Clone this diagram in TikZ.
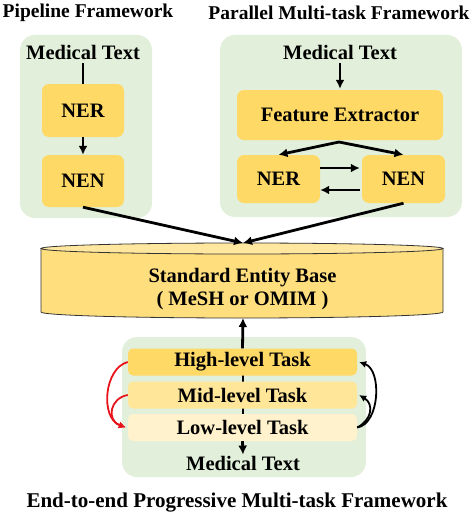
\documentclass[tikz,border=0pt]{standalone}
\usepackage{fontspec}
\setmainfont{Liberation Serif}
\usetikzlibrary{arrows.meta}
\definecolor{bggreen}{HTML}{E2EFDA}
\definecolor{boxor}{HTML}{FFD966}
\definecolor{boxmid}{HTML}{FFE699}
\definecolor{boxlow}{HTML}{FFF2CC}
\definecolor{cylbody}{HTML}{FFDE7E}
\definecolor{cyltopc}{HTML}{FFE7A0}
\definecolor{redarr}{HTML}{E8141C}
\tikzset{
  panel/.style={fill=bggreen, rounded corners=15pt, draw=none},
  obox/.style={fill=boxor, rounded corners=7pt, draw=none, inner sep=0pt},
  txt/.style={font=\fontsize{20.5}{23}\selectfont\bfseries, inner sep=0pt},
  ttl/.style={font=\fontsize{19.5}{22}\selectfont\bfseries, inner sep=0pt},
  arr/.style={line width=2.8pt, -{Latex[length=9pt,width=9pt]}},
  plain/.style={line width=2.8pt},
  curv/.style={line width=1.8pt, -{Latex[length=7pt,width=7pt]}},
}
\begin{document}
\begin{tikzpicture}[x=1pt,y=-1pt]
\useasboundingbox (0,0) rectangle (474,519);
% titles
\node[ttl] (t1) at (88,13) {Pipeline Framework};
\node[ttl] (t2) at (339,13) {Parallel Multi-task Framework};
\node[txt, font=\fontsize{21}{23}\selectfont\bfseries] (t3) at (237,503) {End-to-end Progressive Multi-task Framework};
% panels
\fill[panel] (20,35) rectangle (152,218);
\fill[panel] (220,35) rectangle (462,217);
\fill[panel] (122,337) rectangle (366,477);
% left pipeline
\node[txt] (lmt) at (83,52) {Medical Text};
\node[obox, minimum width=82pt, minimum height=53pt] (lner) at (83,110.5) {};
\node[txt] at (lner) {NER};
\node[obox, minimum width=82pt, minimum height=52pt] (lnen) at (83,181) {};
\node[txt] at (lnen) {NEN};
\draw[plain] (lmt.south) ++(0,-4pt) -- (lner.north);
\draw[arr] (lner.south) -- (lnen.north);
% right parallel
\node[txt] (rmt) at (340,52) {Medical Text};
\node[obox, minimum width=206pt, minimum height=50pt] (fe) at (340,115) {};
\node[txt] at (fe) {Feature Extractor};
\node[obox, minimum width=83pt, minimum height=48pt] (rner) at (278.5,179) {};
\node[txt] at (rner) {NER};
\node[obox, minimum width=83pt, minimum height=48pt] (rnen) at (403.5,179) {};
\node[txt] at (rnen) {NEN};
\draw[arr] ([yshift=-4pt]rmt.south) -- ([yshift=1pt]fe.north);
\coordinate (fes) at (339,142);
\draw[arr] (fes) -- (rner.north);
\draw[arr] (fes) -- (rnen.north);
\draw[arr] ([yshift=11pt]rner.east) -- ([yshift=11pt,xshift=-2pt]rnen.west);
\draw[arr] ([yshift=-11pt,xshift=-2pt]rnen.west) -- ([yshift=-11pt]rner.east);
% cylinder
\fill[cylbody] (41,248.5) -- (41,312) arc[start angle=180,end angle=360,x radius=201pt,y radius=6pt] -- (443,248.5) -- cycle;
\draw[line width=0.8pt, black!80] (41,248.5) -- (41,312) arc[start angle=180,end angle=360,x radius=201pt,y radius=6pt] -- (443,248.5);
\draw[line width=0.8pt, black!80, fill=cyltopc] (242,248.5) ellipse[x radius=201pt, y radius=5.5pt];
\node[txt] (seb1) at (242.5,278) {Standard Entity Base};
\node[txt] (seb2) at (242.5,301) {( MeSH or OMIM )};
\coordinate (cyltop) at (243,243);
\coordinate (cylbot) at (243,318);
\draw[arr] (lnen.south) -- (cyltop);
\draw[arr] (rnen.south) -- (cyltop);
% bottom progressive
\node[txt] (bmt) at (243,463) {Medical Text};
\draw[plain] (243,372) -- (243,420);
\node[obox, fill=boxor, rounded corners=5pt, minimum width=229pt, minimum height=27pt] (high) at (242.5,362) {};
\node[obox, fill=boxmid, rounded corners=5pt, minimum width=229pt, minimum height=27pt] (mid) at (242.5,395) {};
\node[obox, fill=boxlow, rounded corners=5pt, minimum width=229pt, minimum height=27pt] (low) at (242.5,427.5) {};
\node[txt] at (high) {High-level Task};
\node[txt] at (mid) {Mid-level Task};
\node[txt] at (low) {Low-level Task};
\draw[arr] (high.north) -- (cylbot);
\draw[arr] (low.south) -- ([yshift=1pt]bmt.north);
% red curves
\draw[curv, redarr] ([yshift=0pt]high.west) .. controls (104,368) and (100,418) .. ([xshift=-2pt]low.west);
\draw[curv, redarr] (mid.west) .. controls (110,398) and (106,420) .. ([xshift=-2pt]low.west);
% black curves
\draw[curv] (low.east) .. controls (380,424) and (382,370) .. ([xshift=2pt]high.east);
\draw[curv] (low.east) .. controls (372,420) and (374,404) .. ([xshift=2pt]mid.east);
\end{tikzpicture}
\end{document}
